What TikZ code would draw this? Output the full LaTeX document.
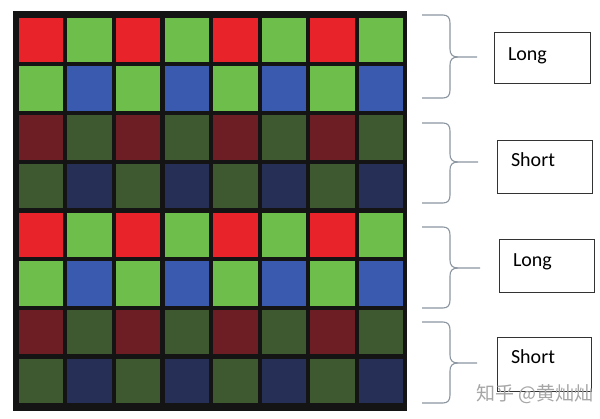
\documentclass[tikz,border=0pt]{standalone}
\usepackage{fontspec}
\setmainfont{Carlito}
\newfontfamily\cjk{Noto Sans CJK SC}
\definecolor{cR}{RGB}{232,35,42}
\definecolor{cG}{RGB}{110,190,75}
\definecolor{cB}{RGB}{58,90,175}
\definecolor{dR}{RGB}{108,30,36}
\definecolor{dG}{RGB}{62,88,48}
\definecolor{dB}{RGB}{38,48,86}
\definecolor{braceC}{RGB}{140,150,160}
\tikzset{
  cell/.style={inner sep=0pt, minimum width=44.5pt, minimum height=44.5pt, draw=none},
  brace/.style={draw=braceC, line width=1.1pt},
  labelbox/.style={draw=black!80, line width=1.1pt, anchor=north west, inner ysep=0pt,
     inner xsep=13.5pt, align=left, font=\fontsize{20}{22}\selectfont},
}
\begin{document}
\begin{tikzpicture}[x=1pt,y=-1pt]
\useasboundingbox (0,0) rectangle (600,418);
\fill[white] (0,0) rectangle (600,418);
% sensor grid background
\fill[black!92] (13,11) rectangle (407,411);
\foreach \r in {0,...,7}{
  \foreach \c in {0,...,7}{
    \pgfmathtruncatemacro{\band}{mod(\r,4)}
    \pgfmathtruncatemacro{\odd}{mod(\c,2)}
    \ifcase\band
      \ifnum\odd=0 \def\col{cR}\else\def\col{cG}\fi
    \or
      \ifnum\odd=0 \def\col{cG}\else\def\col{cB}\fi
    \or
      \ifnum\odd=0 \def\col{dR}\else\def\col{dG}\fi
    \else
      \ifnum\odd=0 \def\col{dG}\else\def\col{dB}\fi
    \fi
    \node[cell, fill=\col, anchor=north west] (c\r\c) at ({18.5+48.6*\c},{17.5+48.7*\r}) {};
  }
}
% braces
\foreach \t/\b/\m/\tip in {15/98/57/477, 123/203/162/478, 227/308/268/480, 322/403/363/477}{
  \draw[brace] (422,\t) -- (443,\t) .. controls (448,\t) and (450,\t+3) .. (450,\t+8)
     -- (450,\m-8) .. controls (450,\m-3) and (452,\m) .. (458,\m) -- (\tip,\m);
  \draw[brace] (422,\b) -- (443,\b) .. controls (448,\b) and (450,\b-3) .. (450,\b-8)
     -- (450,\m+8) .. controls (450,\m+3) and (452,\m) .. (458,\m);
}
% label boxes
\node[labelbox, text width=69pt, text height=28pt, text depth=23pt] (long1) at (494,32) {Long};
\node[labelbox, text width=68pt, text height=26pt, text depth=27pt] (short1) at (497,140) {Short};
\node[labelbox, text width=68pt, text height=27pt, text depth=26pt] (long2) at (499,239) {Long};
\node[labelbox, text width=67pt, text height=26pt, text depth=28pt] (short2) at (497,337) {Short};
% watermark
\node[anchor=east, inner sep=0pt, text=black!35, font=\cjk\fontsize{19}{20}\selectfont] (wm) at (594,394) {知乎 @黄灿灿};
\end{tikzpicture}
\end{document}
